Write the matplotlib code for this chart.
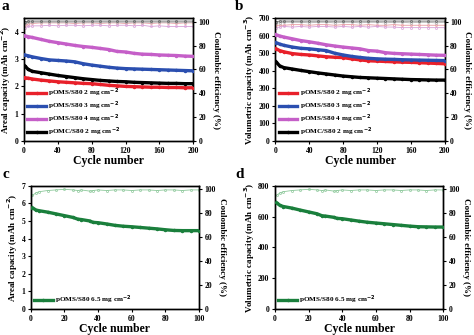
import matplotlib
matplotlib.use("Agg")
import matplotlib.pyplot as plt
import numpy as np

plt.rcParams['font.family'] = ['Liberation Serif', 'DejaVu Serif']
plt.rcParams['font.weight'] = 'bold'
plt.rcParams['axes.labelweight'] = 'bold'
plt.rcParams['mathtext.default'] = 'bf'

# ---------- data ----------
cyc200 = [1, 5, 10, 20, 30, 40, 50, 60, 70, 80, 90, 100, 110, 120, 130, 140, 150, 160, 170, 180, 190, 200]
areal_2 = [2.32, 2.30, 2.27, 2.23, 2.20, 2.17, 2.15, 2.13, 2.11, 2.10, 2.07, 2.04, 2.02, 2.00, 1.99, 1.98, 1.97, 1.97, 1.96, 1.96, 1.95, 1.95]
areal_3 = [3.15, 3.12, 3.08, 3.02, 2.97, 2.95, 2.93, 2.90, 2.83, 2.78, 2.74, 2.70, 2.67, 2.65, 2.64, 2.63, 2.62, 2.61, 2.60, 2.59, 2.58, 2.57]
areal_4 = [3.85, 3.82, 3.79, 3.72, 3.65, 3.60, 3.55, 3.50, 3.46, 3.43, 3.39, 3.35, 3.28, 3.26, 3.21, 3.18, 3.17, 3.15, 3.14, 3.13, 3.11, 3.10]
areal_c = [2.75, 2.62, 2.55, 2.50, 2.45, 2.40, 2.36, 2.32, 2.28, 2.25, 2.22, 2.20, 2.18, 2.17, 2.15, 2.14, 2.13, 2.12, 2.11, 2.11, 2.10, 2.10]
ce_2 = [97, 98, 98.5, 99, 99, 99, 99, 98.5, 99, 99, 98.5, 99, 99, 98.5, 99, 99, 98.5, 99, 99, 98.5, 99, 99]
ce_3 = [99, 99.5, 99.5, 99.5, 99.5, 99.5, 99.5, 99.5, 99.5, 99.5, 99.5, 99.5, 99.5, 99.5, 99.5, 99.5, 99.5, 99.5, 99.5, 99.5, 99.5, 99.5]
ce_4 = [95, 96, 96.5, 96.5, 97, 96.5, 97, 97, 96.5, 97, 97, 96.5, 97, 97, 96.5, 97, 96, 96.5, 96, 96, 96, 96]
ce_c = [100, 100.5, 100.5, 100.5, 100.5, 100.5, 100.5, 100.5, 100.5, 100.5, 100.5, 100.5, 100.5, 100.5, 100.5, 100.5, 100.5, 100.5, 100.5, 100.5, 100.5, 100.5]

vol_2 = [525, 515, 508, 498, 493, 490, 485, 480, 477, 475, 468, 462, 457, 455, 453, 451, 449, 448, 446, 444, 442, 440]
vol_3 = [560, 552, 545, 535, 528, 525, 520, 515, 500, 490, 482, 476, 471, 468, 466, 465, 463, 462, 461, 460, 459, 458]
vol_4 = [605, 598, 592, 582, 572, 565, 557, 548, 541, 535, 530, 525, 515, 512, 503, 499, 497, 495, 493, 491, 489, 488]
vol_c = [450, 428, 418, 410, 402, 395, 388, 382, 376, 370, 366, 362, 360, 358, 356, 354, 352, 350, 349, 348, 347, 347]
vce_2 = [97, 97, 97, 97.5, 97.5, 97, 97.5, 97.5, 97, 97.5, 97.5, 97, 97.5, 97, 97, 97.5, 97, 97, 97, 97, 97, 97]
vce_3 = [99, 99, 99.5, 99.5, 99.5, 99, 99.5, 99.5, 99, 99.5, 99.5, 99, 99.5, 99.5, 99, 99.5, 99.5, 99, 99.5, 99.5, 99, 99.5]
vce_4 = [95, 95.5, 96, 95.5, 96, 95.5, 96, 96, 95.5, 96, 95.5, 96, 95.5, 96, 95.5, 95.5, 95, 95, 95, 95, 95, 95]
vce_c = [100, 100.5, 100.5, 100.5, 100.5, 100.5, 100.5, 100.5, 100.5, 100.5, 100.5, 100.5, 100.5, 100.5, 100.5, 100.5, 100.5, 100.5, 100.5, 100.5, 100.5, 100.5]

cyc100 = [1, 3, 5, 10, 15, 20, 25, 28, 30, 35, 37, 40, 45, 50, 55, 60, 65, 70, 75, 80, 85, 90, 95, 100]
areal_65 = [5.75, 5.62, 5.58, 5.50, 5.40, 5.30, 5.20, 5.10, 5.08, 5.00, 4.92, 4.90, 4.83, 4.75, 4.70, 4.67, 4.63, 4.59, 4.55, 4.50, 4.46, 4.45, 4.45, 4.45]
vol_65 = [690, 672, 665, 655, 642, 630, 618, 605, 603, 595, 588, 586, 578, 570, 563, 558, 553, 548, 543, 538, 534, 533, 532, 532]
ce_65 = [95, 97, 98, 99, 99.5, 100, 99.5, 99, 99.5, 98.5, 99, 99.5, 99, 99.5, 99.5, 99, 99.5, 99.5, 99, 99.5, 99.5, 99, 99.5, 99.5]

labels4 = ['pOMS/S80 2 mg cm$^{-2}$', 'pOMS/S80 3 mg cm$^{-2}$',
           'pOMS/S80 4 mg cm$^{-2}$', 'pOMC/S80 2 mg cm$^{-2}$']
label65 = 'pOMS/S80 6.5 mg cm$^{-2}$'

cols = ['#e8202a', '#2b4fb0', '#c55fc8', '#000000']
ce_cols = ['#e89aa0', '#b0b0b0', '#d8a0d8', '#606060']
green = '#1a7f3c'
green_ce = '#8cc89a'

fig = plt.figure(figsize=(4.74, 3.35), dpi=100)

tick_fs = 5.5
lab_fs = 6.5

def style(ax, ax2):
    for a in (ax, ax2):
        for s in a.spines.values():
            s.set_linewidth(1.0)
        a.tick_params(labelsize=tick_fs, width=0.8, length=2.5, pad=1.5)

def panel(rect, x, caps, ces, labels, ylim, yticks, xticks, ylabel, letter, letter_xy, lw=2.4):
    ax = fig.add_axes(rect)
    ax2 = ax.twinx()
    for y, c, lab in zip(caps, cols if len(caps) > 1 else [green], labels):
        ax.plot(x, y, color=c, lw=lw, marker='o', ms=1.5, label=lab, zorder=3)
    for y, c in zip(ces, ce_cols if len(ces) > 1 else [green_ce]):
        ax2.plot(x, y, color=c, lw=0.6, marker='o', ms=1.5, mfc='none', mew=0.5)
    ax.set_xlim(xticks[0], xticks[-1])
    ax.set_xticks(xticks)
    ax.set_ylim(*ylim)
    ax.set_yticks(yticks)
    ax2.set_ylim(0, 103)
    ax2.set_yticks([0, 20, 40, 60, 80, 100])
    ax.set_zorder(ax2.get_zorder() + 1)
    ax.patch.set_visible(False)
    ax.set_xlabel('Cycle number', fontsize=8.5, labelpad=0)
    ax.set_ylabel(ylabel, fontsize=lab_fs, labelpad=1)
    ax2.set_ylabel('Coulombic efficiency (%)', fontsize=lab_fs, rotation=270, labelpad=7)
    style(ax, ax2)
    for t in ax.get_xticklabels() + ax.get_yticklabels() + ax2.get_yticklabels():
        t.set_fontweight('bold')
    leg = ax.legend(loc='lower left', fontsize=5.2, frameon=False, handlelength=2.6,
                    handletextpad=0.3, labelspacing=0.08, borderaxespad=0.05)
    for t in leg.get_texts():
        t.set_fontweight('bold')
    fig.text(letter_xy[0], letter_xy[1], letter, fontsize=11, fontweight='bold', va='top')
    return ax

panel([0.0506, 0.579, 0.357, 0.367], cyc200, [areal_2, areal_3, areal_4, areal_c],
      [ce_2, ce_3, ce_4, ce_c], labels4, (0, 4.5), [0, 1, 2, 3, 4],
      [0, 40, 80, 120, 160, 200], 'Areal capacity (mAh cm$^{-2}$)', 'a', (0.004, 1.0))
panel([0.581, 0.579, 0.357, 0.367], cyc200, [vol_2, vol_3, vol_4, vol_c],
      [vce_2, vce_3, vce_4, vce_c], labels4, (0, 700), [0, 100, 200, 300, 400, 500, 600, 700],
      [0, 40, 80, 120, 160, 200], 'Volumetric capacity (mAh cm$^{-3}$)', 'b', (0.496, 1.0))
panel([0.065, 0.0776, 0.355, 0.368], cyc100, [areal_65], [ce_65], [label65],
      (0, 7), [0, 1, 2, 3, 4, 5, 6, 7], [0, 20, 40, 60, 80, 100],
      'Areal capacity (mAh cm$^{-2}$)', 'c', (0.006, 0.50))
panel([0.580, 0.0776, 0.355, 0.368], cyc100, [vol_65], [ce_65], [label65],
      (0, 800), [0, 200, 400, 600, 800], [0, 20, 40, 60, 80, 100],
      'Volumetric capacity (mAh cm$^{-3}$)', 'd', (0.497, 0.50))

fig.savefig('out.png', dpi=100)
